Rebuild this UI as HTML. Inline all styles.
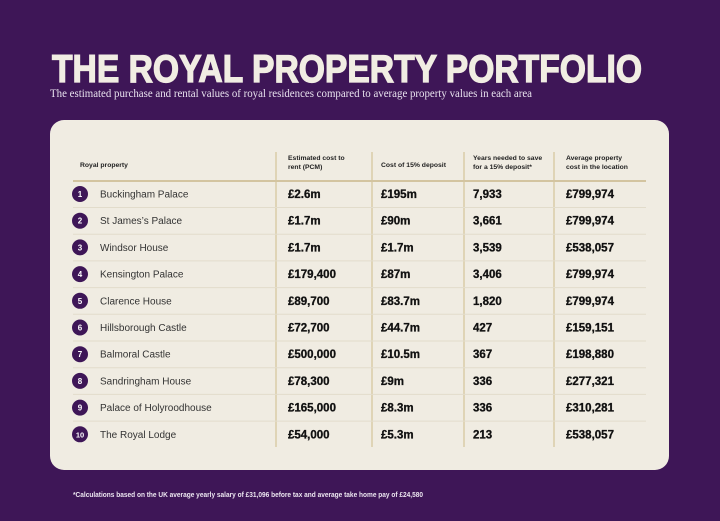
<!DOCTYPE html>
<html><head><meta charset="utf-8"><style>
html,body{margin:0;padding:0;background:#3e1657;}
svg{display:block}
</style></head><body>
<svg width="720" height="521" viewBox="0 0 720 521" xmlns="http://www.w3.org/2000/svg">
<rect width="720" height="521" fill="#3e1657"/>
<text x="52" y="82" font-family="Liberation Sans, sans-serif" font-weight="bold" font-size="39" fill="#f1ede3" stroke="#f1ede3" stroke-width="1.3" textLength="590" lengthAdjust="spacingAndGlyphs">THE ROYAL PROPERTY PORTFOLIO</text>
<text x="50" y="97" font-family="Liberation Serif, serif" font-size="12" fill="#e8e2ee" textLength="482" lengthAdjust="spacingAndGlyphs">The estimated purchase and rental values of royal residences compared to average property values in each area</text>
<rect x="50" y="120" width="619" height="350" rx="14" fill="#f0ece2"/>
<g font-family="Liberation Sans, sans-serif" font-weight="bold" font-size="6.8" fill="#222">
<text x="80" y="167">Royal property</text>
<text x="288" y="160">Estimated cost to</text><text x="288" y="169">rent (PCM)</text>
<text x="381" y="167">Cost of 15% deposit</text>
<text x="473" y="160">Years needed to save</text><text x="473" y="169">for a 15% deposit*</text>
<text x="566" y="160">Average property</text><text x="566" y="169">cost in the location</text>
</g>
<g stroke="#d9cba8" stroke-width="1.5">
<line x1="276" y1="152" x2="276" y2="447"/><line x1="372" y1="152" x2="372" y2="447"/>
<line x1="464" y1="152" x2="464" y2="447"/><line x1="554" y1="152" x2="554" y2="447"/>
</g>
<line x1="73" y1="181" x2="646" y2="181" stroke="#d3c4a0" stroke-width="2"/>
<g stroke="#e2dccb" stroke-width="1">
<line x1="73" y1="207.5" x2="646" y2="207.5"/><line x1="73" y1="234.2" x2="646" y2="234.2"/>
<line x1="73" y1="260.9" x2="646" y2="260.9"/><line x1="73" y1="287.6" x2="646" y2="287.6"/>
<line x1="73" y1="314.3" x2="646" y2="314.3"/><line x1="73" y1="341" x2="646" y2="341"/>
<line x1="73" y1="367.7" x2="646" y2="367.7"/><line x1="73" y1="394.4" x2="646" y2="394.4"/>
<line x1="73" y1="421.1" x2="646" y2="421.1"/>
</g>
<text x="73" y="497" font-family="Liberation Sans, sans-serif" font-weight="bold" font-size="7.3" fill="#ece6f0" textLength="350" lengthAdjust="spacingAndGlyphs">*Calculations based on the UK average yearly salary of £31,096 before tax and average take home pay of £24,580</text>
<g font-family="Liberation Sans, sans-serif">
<g transform="translate(0,194)"><circle cx="80" cy="0" r="8" fill="#3e1657"/><text x="80" y="3" font-size="8" font-weight="bold" fill="#fff" text-anchor="middle">1</text><text x="100" y="3.5" font-size="10" fill="#333">Buckingham Palace</text><g font-size="11.5" font-weight="bold" fill="#111" stroke="#111" stroke-width="0.3"><text x="288" y="4">£2.6m</text><text x="381" y="4">£195m</text><text x="473" y="4">7,933</text><text x="566" y="4">£799,974</text></g></g>
<g transform="translate(0,220.7)"><circle cx="80" cy="0" r="8" fill="#3e1657"/><text x="80" y="3" font-size="8" font-weight="bold" fill="#fff" text-anchor="middle">2</text><text x="100" y="3.5" font-size="10" fill="#333">St James’s Palace</text><g font-size="11.5" font-weight="bold" fill="#111" stroke="#111" stroke-width="0.3"><text x="288" y="4">£1.7m</text><text x="381" y="4">£90m</text><text x="473" y="4">3,661</text><text x="566" y="4">£799,974</text></g></g>
<g transform="translate(0,247.4)"><circle cx="80" cy="0" r="8" fill="#3e1657"/><text x="80" y="3" font-size="8" font-weight="bold" fill="#fff" text-anchor="middle">3</text><text x="100" y="3.5" font-size="10" fill="#333">Windsor House</text><g font-size="11.5" font-weight="bold" fill="#111" stroke="#111" stroke-width="0.3"><text x="288" y="4">£1.7m</text><text x="381" y="4">£1.7m</text><text x="473" y="4">3,539</text><text x="566" y="4">£538,057</text></g></g>
<g transform="translate(0,274.1)"><circle cx="80" cy="0" r="8" fill="#3e1657"/><text x="80" y="3" font-size="8" font-weight="bold" fill="#fff" text-anchor="middle">4</text><text x="100" y="3.5" font-size="10" fill="#333">Kensington Palace</text><g font-size="11.5" font-weight="bold" fill="#111" stroke="#111" stroke-width="0.3"><text x="288" y="4">£179,400</text><text x="381" y="4">£87m</text><text x="473" y="4">3,406</text><text x="566" y="4">£799,974</text></g></g>
<g transform="translate(0,300.8)"><circle cx="80" cy="0" r="8" fill="#3e1657"/><text x="80" y="3" font-size="8" font-weight="bold" fill="#fff" text-anchor="middle">5</text><text x="100" y="3.5" font-size="10" fill="#333">Clarence House</text><g font-size="11.5" font-weight="bold" fill="#111" stroke="#111" stroke-width="0.3"><text x="288" y="4">£89,700</text><text x="381" y="4">£83.7m</text><text x="473" y="4">1,820</text><text x="566" y="4">£799,974</text></g></g>
<g transform="translate(0,327.5)"><circle cx="80" cy="0" r="8" fill="#3e1657"/><text x="80" y="3" font-size="8" font-weight="bold" fill="#fff" text-anchor="middle">6</text><text x="100" y="3.5" font-size="10" fill="#333">Hillsborough Castle</text><g font-size="11.5" font-weight="bold" fill="#111" stroke="#111" stroke-width="0.3"><text x="288" y="4">£72,700</text><text x="381" y="4">£44.7m</text><text x="473" y="4">427</text><text x="566" y="4">£159,151</text></g></g>
<g transform="translate(0,354.2)"><circle cx="80" cy="0" r="8" fill="#3e1657"/><text x="80" y="3" font-size="8" font-weight="bold" fill="#fff" text-anchor="middle">7</text><text x="100" y="3.5" font-size="10" fill="#333">Balmoral Castle</text><g font-size="11.5" font-weight="bold" fill="#111" stroke="#111" stroke-width="0.3"><text x="288" y="4">£500,000</text><text x="381" y="4">£10.5m</text><text x="473" y="4">367</text><text x="566" y="4">£198,880</text></g></g>
<g transform="translate(0,380.9)"><circle cx="80" cy="0" r="8" fill="#3e1657"/><text x="80" y="3" font-size="8" font-weight="bold" fill="#fff" text-anchor="middle">8</text><text x="100" y="3.5" font-size="10" fill="#333">Sandringham House</text><g font-size="11.5" font-weight="bold" fill="#111" stroke="#111" stroke-width="0.3"><text x="288" y="4">£78,300</text><text x="381" y="4">£9m</text><text x="473" y="4">336</text><text x="566" y="4">£277,321</text></g></g>
<g transform="translate(0,407.6)"><circle cx="80" cy="0" r="8" fill="#3e1657"/><text x="80" y="3" font-size="8" font-weight="bold" fill="#fff" text-anchor="middle">9</text><text x="100" y="3.5" font-size="10" fill="#333">Palace of Holyroodhouse</text><g font-size="11.5" font-weight="bold" fill="#111" stroke="#111" stroke-width="0.3"><text x="288" y="4">£165,000</text><text x="381" y="4">£8.3m</text><text x="473" y="4">336</text><text x="566" y="4">£310,281</text></g></g>
<g transform="translate(0,434.3)"><circle cx="80" cy="0" r="8" fill="#3e1657"/><text x="80" y="3" font-size="7.5" font-weight="bold" fill="#fff" text-anchor="middle">10</text><text x="100" y="3.5" font-size="10" fill="#333">The Royal Lodge</text><g font-size="11.5" font-weight="bold" fill="#111" stroke="#111" stroke-width="0.3"><text x="288" y="4">£54,000</text><text x="381" y="4">£5.3m</text><text x="473" y="4">213</text><text x="566" y="4">£538,057</text></g></g>
</g>
</svg>
</body></html>
